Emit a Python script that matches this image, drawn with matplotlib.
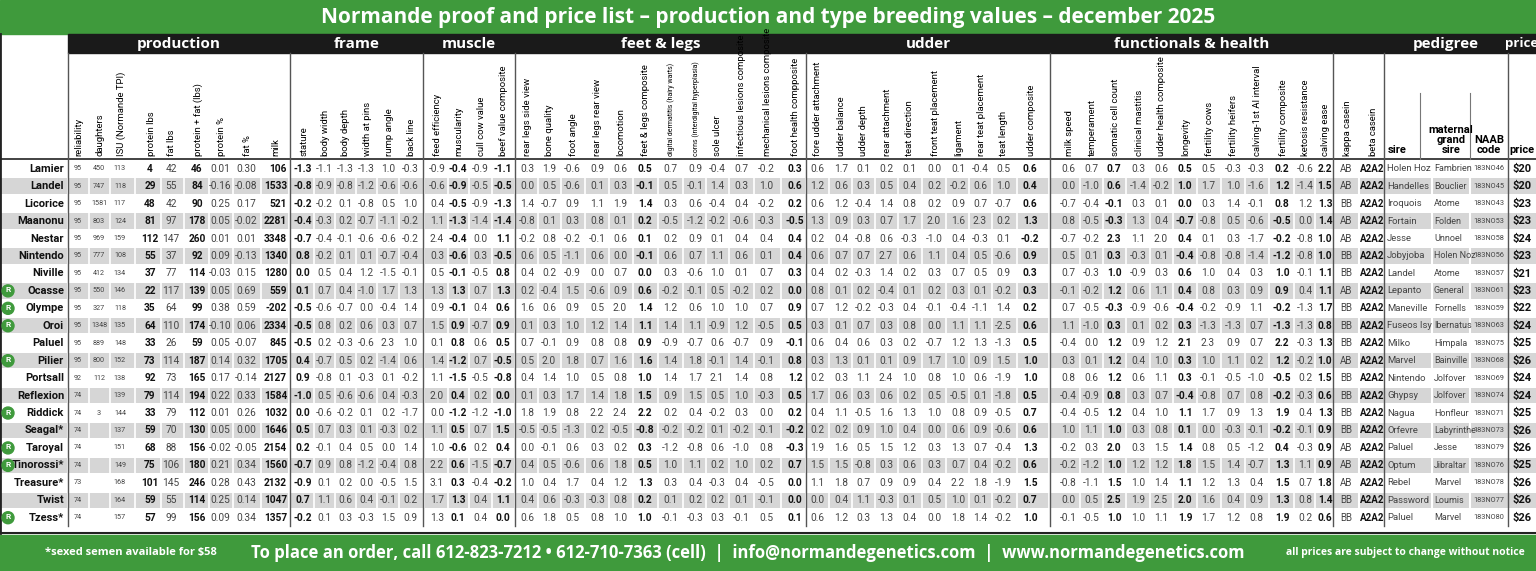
import matplotlib.pyplot as plt
from matplotlib.patches import Rectangle, Circle

plt.rcParams['font.family'] = ['Roboto', 'DejaVu Sans']

names = ["Lamier", "Landel", "Licorice", "Maanonu", "Nestar", "Nintendo", "Niville", "Ocasse",
         "Olympe", "Oroi", "Paluel", "Pilier", "Portsall", "Reflexion", "Riddick", "Seagal*",
         "Taroyal", "Tinorossi*", "Treasure*", "Twist", "Tzess*"]
rfree = ["Ocasse", "Olympe", "Oroi", "Pilier", "Riddick", "Taroyal", "Tinorossi*", "Tzess*"]

prod_cols = ["reliability", "daughters", "ISU (Normande TPI)", "protein lbs", "fat lbs",
             "protein + fat (lbs)", "protein %", "fat %", "milk"]
production = [
    [95, 450, 113, 4, 42, 46, 0.01, 0.30, 106],
    [95, 747, 118, 29, 55, 84, -0.16, -0.08, 1533],
    [95, 1581, 117, 48, 42, 90, 0.25, 0.17, 521],
    [95, 803, 124, 81, 97, 178, 0.05, -0.02, 2281],
    [95, 969, 159, 112, 147, 260, 0.01, 0.01, 3348],
    [95, 777, 108, 55, 37, 92, 0.09, -0.13, 1340],
    [95, 412, 134, 37, 77, 114, -0.03, 0.15, 1280],
    [95, 550, 146, 22, 117, 139, 0.05, 0.69, 559],
    [95, 327, 118, 35, 64, 99, 0.38, 0.59, -202],
    [95, 1348, 135, 64, 110, 174, -0.10, 0.06, 2334],
    [95, 889, 148, 33, 26, 59, 0.05, -0.07, 845],
    [95, 800, 152, 73, 114, 187, 0.14, 0.32, 1705],
    [92, 112, 138, 92, 73, 165, 0.17, -0.14, 2127],
    [74, None, 139, 79, 114, 194, 0.22, 0.33, 1584],
    [74, 3, 144, 33, 79, 112, 0.01, 0.26, 1032],
    [74, None, 137, 59, 70, 130, 0.05, 0.00, 1646],
    [74, None, 151, 68, 88, 156, -0.02, -0.05, 2154],
    [74, None, 149, 75, 106, 180, 0.21, 0.34, 1560],
    [73, None, 168, 101, 145, 246, 0.28, 0.43, 2132],
    [74, None, 164, 59, 55, 114, 0.25, 0.14, 1047],
    [74, None, 157, 57, 99, 156, 0.09, 0.34, 1357],
]

frame_cols = ["stature", "body width", "body depth", "width at pins", "rump angle", "back line"]
frame = [
    [-1.3, -1.1, -1.3, -1.3, 1.0, -0.3], [-0.8, -0.9, -0.8, -1.2, -0.6, -0.6],
    [-0.2, -0.2, 0.1, -0.8, 0.5, 1.0], [-0.4, -0.3, 0.2, -0.7, -1.1, -0.2],
    [-0.7, -0.4, -0.1, -0.6, -0.6, -0.2], [0.8, -0.2, 0.1, 0.1, -0.7, -0.4],
    [0.0, 0.5, 0.4, 1.2, -1.5, -0.1], [0.1, 0.7, 0.4, -1.0, 1.7, 1.3],
    [-0.5, -0.6, -0.7, 0.0, -0.4, 1.4], [-0.5, 0.8, 0.2, 0.6, 0.3, 0.7],
    [-0.5, 0.2, -0.3, -0.6, 2.3, 1.0], [0.4, -0.7, 0.5, 0.2, -1.4, 0.6],
    [0.9, -0.8, 0.1, -0.3, 0.1, -0.2], [-1.0, 0.5, -0.6, -0.6, 0.4, -0.3],
    [0.0, -0.6, -0.2, 0.1, 0.2, -1.7], [0.5, 0.7, 0.3, 0.1, -0.3, 0.2],
    [0.2, -0.1, 0.4, 0.5, 0.0, 1.4], [-0.7, 0.9, 0.8, -1.2, -0.4, 0.8],
    [-0.9, 0.1, 0.2, 0.0, -0.5, 1.5], [0.7, 1.1, 0.6, 0.4, -0.1, 0.2],
    [-0.2, 0.1, 0.3, -0.3, 1.5, 0.9],
]

muscle_cols = ["feed efficiency", "muscularity", "cull cow value", "beef value composite"]
muscle = [
    [-0.9, -0.4, -0.9, -1.1], [-0.6, -0.9, -0.5, -0.5], [0.4, -0.5, -0.9, -1.3],
    [1.1, -1.3, -1.4, -1.4], [2.4, -0.4, 0.0, 1.1], [0.3, -0.6, 0.3, -0.5],
    [0.5, -0.1, -0.5, 0.8], [1.3, 1.3, 0.7, 1.3], [0.9, -0.1, 0.4, 0.6],
    [1.5, 0.9, -0.7, 0.9], [0.1, 0.8, 0.6, 0.5], [1.4, -1.2, 0.7, -0.5],
    [1.1, -1.5, -0.5, -0.8], [2.0, 0.4, 0.2, 0.0], [0.0, -1.2, -1.2, -1.0],
    [1.1, 0.5, 0.7, 1.5], [1.0, -0.6, 0.2, 0.4], [2.2, 0.6, -1.5, -0.7],
    [3.1, 0.3, -0.4, -0.2], [1.7, 1.3, 0.4, 1.1], [1.3, 0.1, 0.4, 0.0],
]

feet_cols = ["rear legs side view", "bone quality", "foot angle", "rear legs rear view", "locomotion",
             "feet & legs composite", "digital dermatitis (hairy warts)",
             "corns (interdigital hyperplasia)", "sole ulcer", "infectious lesions composite",
             "mechanical lesions composite", "foot health compposite"]
feet = [
    [0.3, 1.9, -0.6, 0.9, 0.6, 0.5, 0.7, 0.9, -0.4, 0.7, -0.2, 0.3],
    [0.0, 0.5, -0.6, 0.1, 0.3, -0.1, 0.5, -0.1, 1.4, 0.3, 1.0, 0.6],
    [1.4, -0.7, 0.9, 1.1, 1.9, 1.4, 0.3, 0.6, -0.4, 0.4, -0.2, 0.2],
    [-0.8, 0.1, 0.3, 0.8, 0.1, 0.2, -0.5, -1.2, -0.2, -0.6, -0.3, -0.5],
    [-0.2, 0.8, -0.2, -0.1, 0.6, 0.1, 0.2, 0.9, 0.1, 0.4, 0.4, 0.4],
    [0.6, 0.5, -1.1, 0.6, 0.0, -0.1, 0.6, 0.7, 1.1, 0.6, 0.1, 0.4],
    [0.4, 0.2, -0.9, 0.0, 0.7, 0.0, 0.3, -0.6, 1.0, 0.1, 0.7, 0.3],
    [0.2, -0.4, 1.5, -0.6, 0.9, 0.6, -0.2, -0.1, 0.5, -0.2, 0.2, 0.0],
    [1.6, 0.6, 0.9, 0.5, 2.0, 1.4, 1.2, 0.6, 1.0, 1.0, 0.7, 0.9],
    [0.1, 0.3, 1.0, 1.2, 1.4, 1.1, 1.4, 1.1, -0.9, 1.2, -0.5, 0.5],
    [0.7, -0.1, 0.9, 0.8, 0.8, 0.9, -0.9, -0.7, 0.6, -0.7, 0.9, -0.1],
    [0.5, 2.0, 1.8, 0.7, 1.6, 1.6, 1.4, 1.8, -0.1, 1.4, -0.1, 0.8],
    [0.4, 1.4, 1.0, 0.5, 0.8, 1.0, 1.4, 1.7, 2.1, 1.4, 0.8, 1.2],
    [0.1, 0.3, 1.7, 1.4, 1.8, 1.5, 0.9, 1.5, 0.5, 1.0, -0.3, 0.5],
    [1.8, 1.9, 0.8, 2.2, 2.4, 2.2, 0.2, 0.4, -0.2, 0.3, 0.0, 0.2],
    [-0.5, -0.5, -1.3, 0.2, -0.5, -0.8, -0.2, -0.2, 0.1, -0.2, -0.1, -0.2],
    [0.0, -0.1, 0.6, 0.3, 0.2, 0.3, -1.2, -0.8, 0.6, -1.0, 0.8, -0.3],
    [0.4, 0.5, -0.6, 0.6, 1.8, 0.5, 1.0, 1.1, 0.2, 1.0, 0.2, 0.7],
    [1.0, 0.4, 1.7, 0.4, 1.2, 1.3, 0.3, 0.4, -0.3, 0.4, -0.5, 0.0],
    [0.4, 0.6, -0.3, -0.3, 0.8, 0.2, 0.1, 0.2, 0.2, 0.1, -0.1, 0.0],
    [0.6, 1.8, 0.5, 0.8, 1.0, 1.0, -0.1, -0.3, 0.3, -0.1, 0.5, 0.1],
]

udder_cols = ["fore udder attachment", "udder balance", "udder depth", "rear attachment",
              "teat direction", "front teat placement", "ligament", "rear teat placement",
              "teat length", "udder composite"]
udder = [
    [0.6, 1.7, 0.1, 0.2, 0.1, 0.0, 0.1, -0.4, 0.5, 0.6],
    [1.2, 0.6, 0.3, 0.5, 0.4, 0.2, -0.2, 0.6, 1.0, 0.4],
    [0.6, 1.2, -0.4, 1.4, 0.8, 0.2, 0.9, 0.7, -0.7, 0.6],
    [1.3, 0.9, 0.3, 0.7, 1.7, 2.0, 1.6, 2.3, 0.2, 1.3],
    [0.2, 0.4, -0.8, 0.6, -0.3, -1.0, 0.4, -0.3, 0.1, -0.2],
    [0.6, 0.7, 0.7, 2.7, 0.6, 1.1, 0.4, 0.5, -0.6, 0.9],
    [0.4, 0.2, -0.3, 1.4, 0.2, 0.3, 0.7, 0.5, 0.9, 0.3],
    [0.8, 0.1, 0.2, -0.4, 0.1, 0.2, 0.3, 0.1, -0.2, 0.3],
    [0.7, 1.2, -0.2, -0.3, 0.4, -0.1, -0.4, -1.1, 1.4, 0.2],
    [0.3, 0.1, 0.7, 0.3, 0.8, 0.0, 1.1, 1.1, -2.5, 0.6],
    [0.6, 0.4, 0.6, 0.3, 0.2, -0.7, 1.2, 1.3, -1.3, 0.5],
    [0.3, 1.3, 0.1, 0.1, 0.9, 1.7, 1.0, 0.9, 1.5, 1.0],
    [0.2, 0.3, 1.1, 2.4, 1.0, 0.8, 1.0, 0.6, -1.9, 1.0],
    [1.7, 0.6, 0.3, 0.6, 0.2, 0.5, -0.5, 0.1, -1.8, 0.5],
    [0.4, 1.1, -0.5, 1.6, 1.3, 1.0, 0.8, 0.9, -0.5, 0.7],
    [0.2, 0.2, 0.9, 1.0, 0.4, 0.0, 0.6, 0.9, -0.6, 0.6],
    [1.9, 1.6, 0.5, 1.5, 1.2, 0.3, 1.3, 0.7, -0.4, 1.3],
    [1.5, 1.5, -0.8, 0.3, 0.6, 0.3, 0.7, 0.4, -0.2, 0.6],
    [1.1, 1.8, 0.7, 0.9, 0.9, 0.4, 2.2, 1.8, -1.9, 1.5],
    [0.0, 0.4, 1.1, -0.3, 0.1, 0.5, 1.0, 0.1, -0.2, 0.7],
    [0.6, 1.2, 0.3, 1.3, 0.4, 0.0, 1.8, 1.4, -0.2, 1.0],
]

func_cols = ["milk speed", "temperament", "somatic cell count", "clinical mastitis",
             "udder health composite", "longevity", "fertility cows", "fertility heifers",
             "calving-1st AI interval", "fertility composite", "ketosis resistance", "calving ease"]
functionals = [
    [0.6, 0.7, 0.7, 0.3, 0.6, 0.5, 0.5, -0.3, -0.3, 0.2, -0.6, 2.2],
    [0.0, -1.0, 0.6, -1.4, -0.2, 1.0, 1.7, 1.0, -1.6, 1.2, -1.4, 1.5],
    [-0.7, -0.4, -0.1, 0.3, 0.1, 0.0, 0.3, 1.4, -0.1, 0.8, 1.2, 1.3],
    [0.8, -0.5, -0.3, 1.3, 0.4, -0.7, -0.8, 0.5, -0.6, -0.5, 0.0, 1.4],
    [-0.7, -0.2, 2.3, 1.1, 2.0, 0.4, 0.1, 0.3, -1.7, -0.2, -0.8, 1.0],
    [0.5, 0.1, 0.3, -0.3, 0.1, -0.4, -0.8, -0.8, -1.4, -1.2, -0.8, 1.0],
    [0.7, -0.3, 1.0, -0.9, 0.3, 0.6, 1.0, 0.4, 0.3, 1.0, -0.1, 1.1],
    [-0.1, -0.2, 1.2, 0.6, 1.1, 0.4, 0.8, 0.3, 0.9, 0.9, 0.4, 1.1],
    [0.7, -0.5, -0.3, -0.9, -0.6, -0.4, -0.2, -0.9, 1.1, -0.2, -1.3, 1.7],
    [1.1, -1.0, 0.3, 0.1, 0.2, 0.3, -1.3, -1.3, 0.7, -1.3, -1.3, 0.8],
    [-0.4, 0.0, 1.2, 0.9, 1.2, 2.1, 2.3, 0.9, 0.7, 2.2, -0.3, 1.3],
    [0.3, 0.1, 1.2, 0.4, 1.0, 0.3, 1.0, 1.1, 0.2, 1.2, -0.2, 1.0],
    [0.8, 0.6, 1.2, 0.6, 1.1, 0.3, -0.1, -0.5, -1.0, -0.5, 0.2, 1.5],
    [-0.4, -0.9, 0.8, 0.3, 0.7, -0.4, -0.8, 0.7, 0.8, -0.2, -0.3, 0.6],
    [-0.4, -0.5, 1.2, 0.4, 1.0, 1.1, 1.7, 0.9, 1.3, 1.9, 0.4, 1.3],
    [1.0, 1.1, 1.0, 0.3, 0.8, 0.1, 0.0, -0.3, -0.1, -0.2, -0.1, 0.9],
    [-0.2, 0.3, 2.0, 0.3, 1.5, 1.4, 0.8, 0.5, -1.2, 0.4, -0.3, 0.9],
    [-0.2, -1.2, 1.0, 1.2, 1.2, 1.8, 1.5, 1.4, -0.7, 1.3, 1.1, 0.9],
    [-0.8, -1.1, 1.5, 1.0, 1.4, 1.1, 1.2, 1.3, 0.4, 1.5, 0.7, 1.8],
    [0.0, 0.5, 2.5, 1.9, 2.5, 2.0, 1.6, 0.4, 0.9, 1.3, 0.8, 1.4],
    [-0.1, -0.5, 1.0, 1.0, 1.1, 1.9, 1.7, 1.2, 0.8, 1.9, 0.2, 0.6],
]

kappa = ["AB", "AB", "BB", "AB", "AB", "BB", "BB", "AB", "BB", "BB", "BB", "AB", "BB", "BB",
         "BB", "BB", "AB", "AB", "AB", "BB", "BB"]
beta = ["A2A2"] * 21
sires = ["Holen Hoz", "Handelles", "Iroquois", "Fortain", "Jesse", "Jobyjoba", "Landel", "Lepanto",
         "Maneville", "Fuseos Isy", "Milko", "Marvel", "Nintendo", "Ghypsy", "Nagua", "Orfevre",
         "Paluel", "Optum", "Rebel", "Password", "Paluel"]
mgs = ["Fambrien", "Bouclier", "Atome", "Folden", "Unnoel", "Holen Noz", "Atome", "General",
       "Fornells", "Ibernatus", "Himpala", "Bainville", "Jolfover", "Jolfover", "Honfleur",
       "Labyrinthe", "Jesse", "Jibraltar", "Marvel", "Loumis", "Marvel"]
naab = ["183NO46", "183NO45", "183NO43", "183NO53", "183NO58", "183NO56", "183NO57", "183NO61",
        "183NO59", "183NO63", "183NO75", "183NO68", "183NO69", "183NO74", "183NO71", "183NO73",
        "183NO79", "183NO76", "183NO78", "183NO77", "183NO80"]
price = [20, 20, 23, 23, 24, 23, 21, 23, 22, 24, 25, 26, 24, 24, 25, 26, 26, 25, 26, 26, 26]

GREEN = "#3f9a3c"
fig = plt.figure(figsize=(15.36, 5.71), dpi=100)
ax = fig.add_axes([0, 0, 1, 1])
ax.set_xlim(0, 1536)
ax.set_ylim(571, 0)
ax.axis("off")

# title and footer
ax.add_patch(Rectangle((0, 0), 1536, 34, color=GREEN))
ax.text(768, 18, "Normande proof and price list – production and type breeding values – december 2025",
        color="white", fontsize=15, weight="bold", ha="center", va="center", family="Open Sans")
ax.add_patch(Rectangle((0, 535), 1536, 36, color=GREEN))
ax.plot([0, 1536], [533, 533], color="#222", lw=1.5)
ax.text(45, 553, "*sexed semen available for $58", color="white", fontsize=8, weight="bold", va="center",
        family="Open Sans")
ax.text(748, 553, "To place an order, call 612-823-7212 • 612-710-7363 (cell)  |  info@normandegenetics.com  |  www.normandegenetics.com",
        color="white", fontsize=12, weight="bold", ha="center", va="center", family="Open Sans")
ax.text(1525, 553, "all prices are subject to change without notice", color="white", fontsize=7.5,
        weight="bold", ha="right", va="center", family="Open Sans")

# column layout (pixel centres)
prod_x = [78, 99, 120, 150, 171, 197, 220, 246, 275]
frame_x = [303, 324, 345, 366, 388, 410]
muscle_x = [437, 458, 480, 503]
feet_x = [527, 549, 572, 597, 620, 645, 670, 695, 717, 741, 766, 795]
udder_x = [817, 841, 863, 886, 909, 934, 958, 980, 1003, 1030]
func_x = [1068, 1091, 1114, 1138, 1161, 1185, 1208, 1233, 1256, 1282, 1305, 1325]
groups = [("production", 68, 290), ("frame", 290, 423), ("muscle", 423, 515),
          ("feet & legs", 515, 806), ("udder", 806, 1050), ("functionals & health", 1050, 1333),
          ("pedigree", 1384, 1508), ("price", 1508, 1536)]

y0, rh = 160, 17.45
hdr_top, hdr_bot = 53, 159

ax.add_patch(Rectangle((68, 34), 1468, 19, color="#1a1a1a"))
for g, a, b in groups:
    ax.text((a + b) / 2, 44, g, color="white", fontsize=9.5 if g == "price" else 11, weight="bold",
            ha="center", va="center", family="Open Sans")

# row shading
for i in range(len(names)):
    if i % 2 == 1:
        ax.add_patch(Rectangle((0, y0 + i * rh + 1), 1536, rh - 2, color="#d6d6d6", lw=0))
all_x = prod_x + frame_x + muscle_x + feet_x + udder_x + func_x
for k in range(len(all_x) - 1):
    ax.plot([(all_x[k] + all_x[k + 1]) / 2] * 2, [y0, y0 + rh * 21], color="white", lw=1.2)
for xx in [68, 1359, 1432, 1470]:
    ax.plot([xx, xx], [y0, y0 + rh * 21], color="white", lw=1.5)

# header labels
def vlabels(cols, xs):
    for c, xx in zip(cols, xs):
        small = c.startswith("digital") or c.startswith("corns")
        ax.text(xx + 1, hdr_bot - 3, c, rotation=90, fontsize=5 if small else 6.8, ha="center",
                va="bottom")

vlabels(prod_cols, prod_x)
vlabels(frame_cols, frame_x)
vlabels(muscle_cols, muscle_x)
vlabels(feet_cols, feet_x)
vlabels(udder_cols, udder_x)
vlabels(func_cols, func_x)
vlabels(["kappa casein", "beta casein"], [1346, 1372])
ax.text(1388, hdr_bot - 4, "sire", fontsize=8, va="bottom", weight="bold")
ax.text(1451, hdr_bot - 4, "maternal\ngrand\nsire", fontsize=8, va="bottom", ha="center",
        weight="bold", linespacing=1.0)
ax.text(1489, hdr_bot - 4, "NAAB\ncode", fontsize=8, va="bottom", ha="center", weight="bold",
        linespacing=1.0)
ax.text(1522, hdr_bot - 4, "price", fontsize=8, va="bottom", ha="center", weight="bold")

# grid lines
ax.plot([0, 1536], [hdr_bot, hdr_bot], color="#222", lw=1.2)
ax.plot([0, 0], [34, 533], color="#222", lw=2)
for xx in [68, 290, 423, 515, 806, 1050, 1333, 1384, 1508]:
    ax.plot([xx, xx], [hdr_top, y0 + rh * 21], color="#555", lw=1)
for xx in [1420, 1470]:
    ax.plot([xx, xx], [hdr_top + 40, hdr_bot], color="#777", lw=0.8)

bold_cols = {3, 5, 8}
dark, light = "#111", "#444"

def fmt(v, nd=1):
    return "" if v is None else f"{v:.{nd}f}"

for i, nm in enumerate(names):
    yc = y0 + (i + 0.5) * rh
    ax.text(64, yc, nm, fontsize=8, weight="bold", ha="right", va="center", color=dark)
    if nm in rfree:
        ax.add_patch(Circle((8, yc), 6, color=GREEN, zorder=3))
        ax.text(8, yc - 1, "R", color="white", fontsize=6, weight="bold", ha="center", va="center",
                zorder=4)
    row = production[i]
    for k, (v, xx) in enumerate(zip(row, prod_x)):
        nd = 2 if k in (6, 7) else 0
        if k < 3:
            ax.text(xx, yc, fmt(v, 0), fontsize=5.2, ha="center", va="center", color=light)
        else:
            b = k in bold_cols
            ax.text(xx + (12 if k == 8 else 0), yc, fmt(v, nd), fontsize=7.3,
                    ha="right" if k == 8 else "center", va="center",
                    color=dark if b else light, weight="bold" if b else "normal")
    for data, xs, bolds in [(frame[i], frame_x, {0}), (muscle[i], muscle_x, {1, 3}),
                            (feet[i], feet_x, {5, 11}), (udder[i], udder_x, {9}),
                            (functionals[i], func_x, {2, 5, 9, 11})]:
        for k, (v, xx) in enumerate(zip(data, xs)):
            b = k in bolds
            ax.text(xx, yc, fmt(v), fontsize=7.3, ha="center", va="center",
                    color=dark if b else light, weight="bold" if b else "normal")
    ax.text(1346, yc, kappa[i], fontsize=7, ha="center", va="center", color=light)
    ax.text(1372, yc, beta[i], fontsize=7, ha="center", va="center", color=dark, weight="bold")
    ax.text(1387, yc, sires[i], fontsize=6.8, ha="left", va="center", color=light)
    ax.text(1434, yc, mgs[i], fontsize=6.5, ha="left", va="center", color=light)
    ax.text(1489, yc, naab[i], fontsize=5.3, ha="center", va="center", color=light)
    ax.text(1522, yc, f"${price[i]}", fontsize=8, ha="center", va="center", color=dark, weight="bold")

plt.savefig("out.png", dpi=100)
